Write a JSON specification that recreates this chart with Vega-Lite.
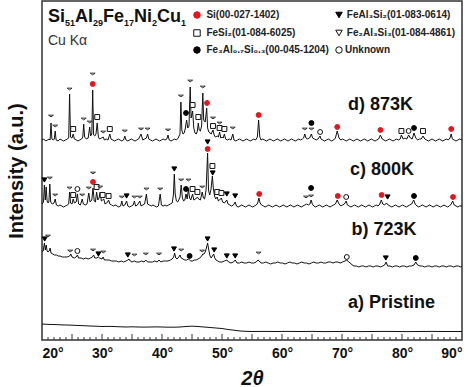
{
  "$schema": "https://vega.github.io/schema/vega-lite/v6.json",
  "width": 420,
  "height": 339,
  "autosize": {"type": "none"},
  "padding": {"left": 42, "top": 1, "right": 12, "bottom": 47},
  "background": "white",
  "config": {
    "view": {"stroke": "#333333", "strokeWidth": 1.5},
    "font": "Liberation Sans",
    "axisX": {"domain": false, "ticks": false, "grid": false, "labelPadding": 6, "labelFontSize": 14, "labelFontWeight": "bold", "labelColor": "#111111", "labelFont": "Liberation Sans", "titleFont": "Liberation Sans", "titleFontSize": 20, "titleFontWeight": "bold", "titleFontStyle": "italic", "titleColor": "#111111", "titlePadding": 8},
    "axisY": {"domain": false, "ticks": false, "grid": false, "labels": false, "titleFont": "Liberation Sans", "titleFontSize": 20, "titleFontWeight": "bold", "titleColor": "#111111", "titlePadding": 16}
  },
  "datasets": {
    "traces": [
      {"s":"d","t":20.0,"v":200},{"s":"d","t":20.3,"v":201},{"s":"d","t":20.6,"v":199},{"s":"d","t":20.9,"v":200},{"s":"d","t":21.2,"v":201},{"s":"d","t":21.35,"v":200},{"s":"d","t":21.5,"v":217},{"s":"d","t":21.65,"v":201},{"s":"d","t":21.9,"v":200},{"s":"d","t":22.05,"v":201},{"s":"d","t":22.2,"v":209},{"s":"d","t":22.35,"v":200},{"s":"d","t":22.7,"v":199},{"s":"d","t":23.0,"v":201},{"s":"d","t":23.3,"v":200},{"s":"d","t":23.6,"v":199},{"s":"d","t":23.9,"v":200},{"s":"d","t":24.2,"v":201},{"s":"d","t":24.45,"v":202},{"s":"d","t":24.6,"v":246},{"s":"d","t":24.75,"v":203},{"s":"d","t":25.0,"v":202},{"s":"d","t":25.2,"v":206},{"s":"d","t":25.4,"v":201},{"s":"d","t":25.7,"v":200},{"s":"d","t":26.0,"v":199},{"s":"d","t":26.3,"v":200},{"s":"d","t":26.6,"v":201},{"s":"d","t":26.8,"v":203},{"s":"d","t":26.95,"v":216},{"s":"d","t":27.1,"v":203},{"s":"d","t":27.4,"v":201},{"s":"d","t":27.7,"v":202},{"s":"d","t":27.95,"v":213},{"s":"d","t":28.1,"v":204},{"s":"d","t":28.3,"v":206},{"s":"d","t":28.45,"v":250},{"s":"d","t":28.6,"v":205},{"s":"d","t":28.8,"v":204},{"s":"d","t":29.0,"v":206},{"s":"d","t":29.2,"v":217},{"s":"d","t":29.4,"v":203},{"s":"d","t":29.6,"v":201},{"s":"d","t":29.9,"v":202},{"s":"d","t":30.2,"v":203},{"s":"d","t":30.4,"v":200},{"s":"d","t":30.7,"v":201},{"s":"d","t":31.0,"v":200},{"s":"d","t":31.3,"v":206},{"s":"d","t":31.5,"v":201},{"s":"d","t":31.8,"v":200},{"s":"d","t":32.1,"v":199},{"s":"d","t":32.4,"v":200},{"s":"d","t":32.7,"v":201},{"s":"d","t":33.0,"v":200},{"s":"d","t":33.3,"v":199},{"s":"d","t":33.6,"v":200},{"s":"d","t":33.8,"v":204},{"s":"d","t":34.0,"v":200},{"s":"d","t":34.3,"v":199},{"s":"d","t":34.6,"v":200},{"s":"d","t":34.9,"v":201},{"s":"d","t":35.2,"v":200},{"s":"d","t":35.5,"v":199},{"s":"d","t":35.8,"v":200},{"s":"d","t":36.1,"v":201},{"s":"d","t":36.5,"v":206},{"s":"d","t":36.8,"v":200},{"s":"d","t":37.1,"v":201},{"s":"d","t":37.4,"v":202},{"s":"d","t":37.6,"v":206},{"s":"d","t":37.8,"v":201},{"s":"d","t":38.1,"v":200},{"s":"d","t":38.4,"v":199},{"s":"d","t":38.7,"v":200},{"s":"d","t":39.0,"v":201},{"s":"d","t":39.3,"v":200},{"s":"d","t":39.6,"v":199},{"s":"d","t":39.9,"v":200},{"s":"d","t":40.2,"v":201},{"s":"d","t":40.5,"v":200},{"s":"d","t":40.8,"v":201},{"s":"d","t":41.0,"v":205},{"s":"d","t":41.2,"v":200},{"s":"d","t":41.5,"v":199},{"s":"d","t":41.8,"v":200},{"s":"d","t":42.1,"v":201},{"s":"d","t":42.4,"v":200},{"s":"d","t":42.7,"v":202},{"s":"d","t":43.0,"v":206},{"s":"d","t":43.15,"v":238},{"s":"d","t":43.3,"v":210},{"s":"d","t":43.5,"v":206},{"s":"d","t":43.7,"v":207},{"s":"d","t":43.9,"v":212},{"s":"d","t":44.1,"v":220},{"s":"d","t":44.3,"v":212},{"s":"d","t":44.5,"v":214},{"s":"d","t":44.7,"v":253},{"s":"d","t":44.85,"v":222},{"s":"d","t":45.1,"v":229},{"s":"d","t":45.3,"v":212},{"s":"d","t":45.5,"v":207},{"s":"d","t":45.7,"v":206},{"s":"d","t":45.9,"v":209},{"s":"d","t":46.05,"v":217},{"s":"d","t":46.2,"v":210},{"s":"d","t":46.4,"v":209},{"s":"d","t":46.6,"v":214},{"s":"d","t":46.8,"v":247},{"s":"d","t":46.95,"v":220},{"s":"d","t":47.2,"v":218},{"s":"d","t":47.45,"v":232},{"s":"d","t":47.6,"v":212},{"s":"d","t":47.8,"v":208},{"s":"d","t":48.0,"v":207},{"s":"d","t":48.2,"v":206},{"s":"d","t":48.5,"v":210},{"s":"d","t":48.7,"v":205},{"s":"d","t":48.9,"v":203},{"s":"d","t":49.2,"v":204},{"s":"d","t":49.4,"v":203},{"s":"d","t":49.6,"v":208},{"s":"d","t":49.8,"v":202},{"s":"d","t":50.0,"v":203},{"s":"d","t":50.2,"v":202},{"s":"d","t":50.4,"v":206},{"s":"d","t":50.6,"v":201},{"s":"d","t":50.9,"v":200},{"s":"d","t":51.2,"v":201},{"s":"d","t":51.5,"v":200},{"s":"d","t":51.8,"v":206},{"s":"d","t":52.0,"v":200},{"s":"d","t":52.3,"v":199},{"s":"d","t":52.6,"v":200},{"s":"d","t":52.9,"v":201},{"s":"d","t":53.2,"v":200},{"s":"d","t":53.5,"v":199},{"s":"d","t":53.8,"v":200},{"s":"d","t":54.1,"v":201},{"s":"d","t":54.4,"v":200},{"s":"d","t":54.7,"v":199},{"s":"d","t":55.0,"v":200},{"s":"d","t":55.3,"v":201},{"s":"d","t":55.6,"v":200},{"s":"d","t":55.9,"v":203},{"s":"d","t":56.1,"v":220},{"s":"d","t":56.3,"v":203},{"s":"d","t":56.5,"v":200},{"s":"d","t":56.8,"v":201},{"s":"d","t":57.1,"v":200},{"s":"d","t":57.4,"v":199},{"s":"d","t":57.7,"v":200},{"s":"d","t":58.0,"v":201},{"s":"d","t":58.3,"v":200},{"s":"d","t":58.6,"v":199},{"s":"d","t":58.9,"v":200},{"s":"d","t":59.2,"v":201},{"s":"d","t":59.5,"v":200},{"s":"d","t":59.8,"v":199},{"s":"d","t":60.1,"v":200},{"s":"d","t":60.4,"v":201},{"s":"d","t":60.7,"v":200},{"s":"d","t":61.0,"v":199},{"s":"d","t":61.3,"v":200},{"s":"d","t":61.6,"v":201},{"s":"d","t":61.9,"v":200},{"s":"d","t":62.2,"v":199},{"s":"d","t":62.5,"v":200},{"s":"d","t":62.8,"v":201},{"s":"d","t":63.1,"v":200},{"s":"d","t":63.4,"v":201},{"s":"d","t":63.6,"v":202},{"s":"d","t":63.8,"v":206},{"s":"d","t":64.0,"v":202},{"s":"d","t":64.3,"v":201},{"s":"d","t":64.6,"v":202},{"s":"d","t":64.9,"v":206},{"s":"d","t":65.1,"v":202},{"s":"d","t":65.4,"v":201},{"s":"d","t":65.7,"v":200},{"s":"d","t":66.0,"v":201},{"s":"d","t":66.35,"v":204},{"s":"d","t":66.5,"v":201},{"s":"d","t":66.8,"v":200},{"s":"d","t":67.1,"v":199},{"s":"d","t":67.4,"v":200},{"s":"d","t":67.7,"v":201},{"s":"d","t":68.0,"v":200},{"s":"d","t":68.3,"v":199},{"s":"d","t":68.6,"v":200},{"s":"d","t":68.9,"v":202},{"s":"d","t":69.2,"v":209},{"s":"d","t":69.5,"v":202},{"s":"d","t":69.8,"v":200},{"s":"d","t":70.1,"v":201},{"s":"d","t":70.4,"v":200},{"s":"d","t":70.7,"v":199},{"s":"d","t":71.0,"v":200},{"s":"d","t":71.3,"v":201},{"s":"d","t":71.6,"v":200},{"s":"d","t":71.9,"v":199},{"s":"d","t":72.2,"v":200},{"s":"d","t":72.5,"v":201},{"s":"d","t":72.8,"v":200},{"s":"d","t":73.1,"v":199},{"s":"d","t":73.4,"v":200},{"s":"d","t":73.7,"v":201},{"s":"d","t":74.0,"v":200},{"s":"d","t":74.3,"v":199},{"s":"d","t":74.6,"v":200},{"s":"d","t":74.9,"v":201},{"s":"d","t":75.2,"v":200},{"s":"d","t":75.5,"v":199},{"s":"d","t":75.8,"v":200},{"s":"d","t":76.1,"v":201},{"s":"d","t":76.4,"v":205},{"s":"d","t":76.7,"v":201},{"s":"d","t":77.0,"v":200},{"s":"d","t":77.3,"v":199},{"s":"d","t":77.6,"v":200},{"s":"d","t":77.9,"v":201},{"s":"d","t":78.2,"v":200},{"s":"d","t":78.5,"v":199},{"s":"d","t":78.8,"v":200},{"s":"d","t":79.1,"v":201},{"s":"d","t":79.4,"v":200},{"s":"d","t":79.7,"v":201},{"s":"d","t":79.9,"v":205},{"s":"d","t":80.2,"v":201},{"s":"d","t":80.5,"v":202},{"s":"d","t":80.8,"v":201},{"s":"d","t":81.1,"v":205},{"s":"d","t":81.4,"v":202},{"s":"d","t":81.7,"v":201},{"s":"d","t":82.0,"v":207},{"s":"d","t":82.3,"v":202},{"s":"d","t":82.6,"v":200},{"s":"d","t":82.9,"v":201},{"s":"d","t":83.2,"v":201},{"s":"d","t":83.5,"v":204},{"s":"d","t":83.8,"v":201},{"s":"d","t":84.1,"v":200},{"s":"d","t":84.4,"v":199},{"s":"d","t":84.7,"v":200},{"s":"d","t":85.0,"v":201},{"s":"d","t":85.3,"v":200},{"s":"d","t":85.6,"v":199},{"s":"d","t":85.9,"v":200},{"s":"d","t":86.2,"v":201},{"s":"d","t":86.5,"v":200},{"s":"d","t":86.8,"v":199},{"s":"d","t":87.1,"v":200},{"s":"d","t":87.4,"v":201},{"s":"d","t":87.7,"v":200},{"s":"d","t":88.0,"v":202},{"s":"d","t":88.2,"v":206},{"s":"d","t":88.4,"v":201},{"s":"d","t":88.7,"v":200},{"s":"d","t":89.0,"v":199},{"s":"d","t":89.3,"v":200},{"s":"d","t":89.6,"v":201},{"s":"d","t":90.0,"v":200},

      {"s":"c","t":20.0,"v":136},{"s":"c","t":20.25,"v":138},{"s":"c","t":20.4,"v":155},{"s":"c","t":20.55,"v":140},{"s":"c","t":20.7,"v":153},{"s":"c","t":20.85,"v":139},{"s":"c","t":21.0,"v":137},{"s":"c","t":21.15,"v":138},{"s":"c","t":21.3,"v":156},{"s":"c","t":21.45,"v":138},{"s":"c","t":21.7,"v":136},{"s":"c","t":22.0,"v":137},{"s":"c","t":22.2,"v":141},{"s":"c","t":22.4,"v":135},{"s":"c","t":22.7,"v":134},{"s":"c","t":23.0,"v":135},{"s":"c","t":23.3,"v":134},{"s":"c","t":23.6,"v":133},{"s":"c","t":23.9,"v":134},{"s":"c","t":24.2,"v":135},{"s":"c","t":24.45,"v":136},{"s":"c","t":24.6,"v":148},{"s":"c","t":24.75,"v":137},{"s":"c","t":25.0,"v":136},{"s":"c","t":25.2,"v":141},{"s":"c","t":25.4,"v":137},{"s":"c","t":25.7,"v":138},{"s":"c","t":25.9,"v":146},{"s":"c","t":26.1,"v":136},{"s":"c","t":26.4,"v":135},{"s":"c","t":26.7,"v":141},{"s":"c","t":26.9,"v":136},{"s":"c","t":27.2,"v":135},{"s":"c","t":27.5,"v":136},{"s":"c","t":27.8,"v":147},{"s":"c","t":28.0,"v":138},{"s":"c","t":28.3,"v":140},{"s":"c","t":28.5,"v":152},{"s":"c","t":28.7,"v":139},{"s":"c","t":28.9,"v":138},{"s":"c","t":29.1,"v":148},{"s":"c","t":29.3,"v":140},{"s":"c","t":29.5,"v":142},{"s":"c","t":29.7,"v":148},{"s":"c","t":29.9,"v":139},{"s":"c","t":30.1,"v":140},{"s":"c","t":30.3,"v":141},{"s":"c","t":30.5,"v":136},{"s":"c","t":30.8,"v":137},{"s":"c","t":31.1,"v":140},{"s":"c","t":31.3,"v":136},{"s":"c","t":31.6,"v":135},{"s":"c","t":31.9,"v":134},{"s":"c","t":32.2,"v":135},{"s":"c","t":32.5,"v":134},{"s":"c","t":32.8,"v":133},{"s":"c","t":33.1,"v":134},{"s":"c","t":33.3,"v":139},{"s":"c","t":33.5,"v":134},{"s":"c","t":33.8,"v":135},{"s":"c","t":34.1,"v":139},{"s":"c","t":34.3,"v":134},{"s":"c","t":34.6,"v":133},{"s":"c","t":34.9,"v":134},{"s":"c","t":35.2,"v":135},{"s":"c","t":35.4,"v":139},{"s":"c","t":35.6,"v":134},{"s":"c","t":35.9,"v":135},{"s":"c","t":36.3,"v":139},{"s":"c","t":36.5,"v":134},{"s":"c","t":36.8,"v":135},{"s":"c","t":37.1,"v":136},{"s":"c","t":37.4,"v":146},{"s":"c","t":37.6,"v":136},{"s":"c","t":37.9,"v":135},{"s":"c","t":38.2,"v":134},{"s":"c","t":38.5,"v":135},{"s":"c","t":38.8,"v":134},{"s":"c","t":39.1,"v":133},{"s":"c","t":39.4,"v":134},{"s":"c","t":39.7,"v":146},{"s":"c","t":39.9,"v":135},{"s":"c","t":40.2,"v":134},{"s":"c","t":40.5,"v":135},{"s":"c","t":40.8,"v":134},{"s":"c","t":41.1,"v":135},{"s":"c","t":41.4,"v":136},{"s":"c","t":41.7,"v":137},{"s":"c","t":41.9,"v":145},{"s":"c","t":42.05,"v":166},{"s":"c","t":42.2,"v":146},{"s":"c","t":42.4,"v":139},{"s":"c","t":42.6,"v":138},{"s":"c","t":42.8,"v":140},{"s":"c","t":43.0,"v":143},{"s":"c","t":43.2,"v":155},{"s":"c","t":43.4,"v":142},{"s":"c","t":43.6,"v":139},{"s":"c","t":43.8,"v":140},{"s":"c","t":44.0,"v":146},{"s":"c","t":44.2,"v":141},{"s":"c","t":44.4,"v":151},{"s":"c","t":44.6,"v":142},{"s":"c","t":44.8,"v":140},{"s":"c","t":45.1,"v":146},{"s":"c","t":45.3,"v":140},{"s":"c","t":45.6,"v":141},{"s":"c","t":45.9,"v":143},{"s":"c","t":46.1,"v":141},{"s":"c","t":46.4,"v":140},{"s":"c","t":46.7,"v":148},{"s":"c","t":46.9,"v":142},{"s":"c","t":47.1,"v":141},{"s":"c","t":47.35,"v":150},{"s":"c","t":47.6,"v":187},{"s":"c","t":47.75,"v":150},{"s":"c","t":47.95,"v":145},{"s":"c","t":48.15,"v":150},{"s":"c","t":48.4,"v":164},{"s":"c","t":48.55,"v":152},{"s":"c","t":48.75,"v":144},{"s":"c","t":48.95,"v":141},{"s":"c","t":49.2,"v":143},{"s":"c","t":49.4,"v":139},{"s":"c","t":49.6,"v":140},{"s":"c","t":49.9,"v":142},{"s":"c","t":50.1,"v":138},{"s":"c","t":50.4,"v":137},{"s":"c","t":50.8,"v":140},{"s":"c","t":51.0,"v":136},{"s":"c","t":51.3,"v":135},{"s":"c","t":51.6,"v":134},{"s":"c","t":51.9,"v":135},{"s":"c","t":52.2,"v":138},{"s":"c","t":52.4,"v":134},{"s":"c","t":52.7,"v":133},{"s":"c","t":53.0,"v":134},{"s":"c","t":53.3,"v":135},{"s":"c","t":53.6,"v":134},{"s":"c","t":53.9,"v":133},{"s":"c","t":54.2,"v":134},{"s":"c","t":54.5,"v":135},{"s":"c","t":54.8,"v":134},{"s":"c","t":55.1,"v":133},{"s":"c","t":55.4,"v":134},{"s":"c","t":55.7,"v":135},{"s":"c","t":55.95,"v":137},{"s":"c","t":56.15,"v":142},{"s":"c","t":56.35,"v":137},{"s":"c","t":56.6,"v":135},{"s":"c","t":56.9,"v":134},{"s":"c","t":57.2,"v":133},{"s":"c","t":57.5,"v":134},{"s":"c","t":57.8,"v":135},{"s":"c","t":58.1,"v":134},{"s":"c","t":58.4,"v":133},{"s":"c","t":58.7,"v":134},{"s":"c","t":59.0,"v":135},{"s":"c","t":59.3,"v":134},{"s":"c","t":59.6,"v":133},{"s":"c","t":59.9,"v":134},{"s":"c","t":60.2,"v":135},{"s":"c","t":60.5,"v":134},{"s":"c","t":60.8,"v":133},{"s":"c","t":61.1,"v":134},{"s":"c","t":61.4,"v":135},{"s":"c","t":61.7,"v":134},{"s":"c","t":62.0,"v":133},{"s":"c","t":62.3,"v":134},{"s":"c","t":62.6,"v":135},{"s":"c","t":62.9,"v":134},{"s":"c","t":63.2,"v":133},{"s":"c","t":63.5,"v":134},{"s":"c","t":63.8,"v":135},{"s":"c","t":64.1,"v":136},{"s":"c","t":64.4,"v":135},{"s":"c","t":64.65,"v":136},{"s":"c","t":64.85,"v":140},{"s":"c","t":65.05,"v":136},{"s":"c","t":65.3,"v":134},{"s":"c","t":65.6,"v":133},{"s":"c","t":65.9,"v":134},{"s":"c","t":66.2,"v":135},{"s":"c","t":66.5,"v":134},{"s":"c","t":66.8,"v":133},{"s":"c","t":67.1,"v":134},{"s":"c","t":67.4,"v":135},{"s":"c","t":67.7,"v":134},{"s":"c","t":68.0,"v":133},{"s":"c","t":68.3,"v":134},{"s":"c","t":68.6,"v":135},{"s":"c","t":68.9,"v":136},{"s":"c","t":69.2,"v":140},{"s":"c","t":69.5,"v":136},{"s":"c","t":69.8,"v":134},{"s":"c","t":70.1,"v":135},{"s":"c","t":70.4,"v":136},{"s":"c","t":70.7,"v":139},{"s":"c","t":70.9,"v":135},{"s":"c","t":71.2,"v":134},{"s":"c","t":71.5,"v":133},{"s":"c","t":71.8,"v":134},{"s":"c","t":72.1,"v":135},{"s":"c","t":72.4,"v":134},{"s":"c","t":72.7,"v":133},{"s":"c","t":73.0,"v":134},{"s":"c","t":73.3,"v":135},{"s":"c","t":73.6,"v":134},{"s":"c","t":73.9,"v":133},{"s":"c","t":74.2,"v":134},{"s":"c","t":74.5,"v":135},{"s":"c","t":74.8,"v":134},{"s":"c","t":75.1,"v":133},{"s":"c","t":75.4,"v":134},{"s":"c","t":75.7,"v":135},{"s":"c","t":76.0,"v":134},{"s":"c","t":76.3,"v":136},{"s":"c","t":76.55,"v":140},{"s":"c","t":76.8,"v":136},{"s":"c","t":77.1,"v":135},{"s":"c","t":77.4,"v":137},{"s":"c","t":77.7,"v":135},{"s":"c","t":78.0,"v":134},{"s":"c","t":78.3,"v":133},{"s":"c","t":78.6,"v":134},{"s":"c","t":78.9,"v":135},{"s":"c","t":79.2,"v":134},{"s":"c","t":79.5,"v":133},{"s":"c","t":79.8,"v":134},{"s":"c","t":80.1,"v":135},{"s":"c","t":80.4,"v":134},{"s":"c","t":80.7,"v":133},{"s":"c","t":81.0,"v":134},{"s":"c","t":81.3,"v":135},{"s":"c","t":81.6,"v":136},{"s":"c","t":81.95,"v":140},{"s":"c","t":82.2,"v":136},{"s":"c","t":82.5,"v":134},{"s":"c","t":82.8,"v":133},{"s":"c","t":83.1,"v":134},{"s":"c","t":83.4,"v":135},{"s":"c","t":83.7,"v":134},{"s":"c","t":84.0,"v":133},{"s":"c","t":84.3,"v":134},{"s":"c","t":84.6,"v":135},{"s":"c","t":84.9,"v":134},{"s":"c","t":85.2,"v":133},{"s":"c","t":85.5,"v":134},{"s":"c","t":85.8,"v":135},{"s":"c","t":86.1,"v":134},{"s":"c","t":86.4,"v":133},{"s":"c","t":86.7,"v":134},{"s":"c","t":87.0,"v":135},{"s":"c","t":87.3,"v":134},{"s":"c","t":87.6,"v":133},{"s":"c","t":87.9,"v":134},{"s":"c","t":88.2,"v":136},{"s":"c","t":88.45,"v":139},{"s":"c","t":88.7,"v":135},{"s":"c","t":89.0,"v":134},{"s":"c","t":89.3,"v":133},{"s":"c","t":89.6,"v":134},{"s":"c","t":90.0,"v":134},

      {"s":"b","t":20.0,"v":88},{"s":"b","t":20.2,"v":89},{"s":"b","t":20.4,"v":97},{"s":"b","t":20.55,"v":90},{"s":"b","t":20.7,"v":95},{"s":"b","t":20.85,"v":89},{"s":"b","t":21.0,"v":88},{"s":"b","t":21.2,"v":89},{"s":"b","t":21.35,"v":92},{"s":"b","t":21.5,"v":87},{"s":"b","t":21.8,"v":86},{"s":"b","t":22.1,"v":85},{"s":"b","t":22.4,"v":85},{"s":"b","t":22.7,"v":84},{"s":"b","t":23.0,"v":84},{"s":"b","t":23.4,"v":83},{"s":"b","t":23.8,"v":83},{"s":"b","t":24.2,"v":83},{"s":"b","t":24.6,"v":84},{"s":"b","t":24.8,"v":86},{"s":"b","t":25.0,"v":83},{"s":"b","t":25.4,"v":82},{"s":"b","t":25.7,"v":83},{"s":"b","t":25.9,"v":85},{"s":"b","t":26.1,"v":82},{"s":"b","t":26.5,"v":82},{"s":"b","t":26.9,"v":81},{"s":"b","t":27.3,"v":82},{"s":"b","t":27.7,"v":81},{"s":"b","t":28.1,"v":82},{"s":"b","t":28.4,"v":83},{"s":"b","t":28.6,"v":85},{"s":"b","t":28.8,"v":82},{"s":"b","t":29.1,"v":82},{"s":"b","t":29.4,"v":83},{"s":"b","t":29.6,"v":82},{"s":"b","t":30.0,"v":81},{"s":"b","t":30.2,"v":83},{"s":"b","t":30.4,"v":80},{"s":"b","t":30.8,"v":80},{"s":"b","t":31.2,"v":80},{"s":"b","t":31.6,"v":79},{"s":"b","t":32.0,"v":79},{"s":"b","t":32.4,"v":79},{"s":"b","t":32.8,"v":78},{"s":"b","t":33.2,"v":79},{"s":"b","t":33.6,"v":78},{"s":"b","t":34.0,"v":79},{"s":"b","t":34.3,"v":80},{"s":"b","t":34.5,"v":81},{"s":"b","t":34.7,"v":79},{"s":"b","t":35.0,"v":78},{"s":"b","t":35.4,"v":79},{"s":"b","t":35.8,"v":78},{"s":"b","t":36.2,"v":78},{"s":"b","t":36.6,"v":79},{"s":"b","t":37.0,"v":78},{"s":"b","t":37.3,"v":80},{"s":"b","t":37.6,"v":78},{"s":"b","t":38.0,"v":78},{"s":"b","t":38.4,"v":78},{"s":"b","t":38.8,"v":79},{"s":"b","t":39.2,"v":78},{"s":"b","t":39.5,"v":80},{"s":"b","t":39.8,"v":78},{"s":"b","t":40.2,"v":79},{"s":"b","t":40.6,"v":79},{"s":"b","t":41.0,"v":79},{"s":"b","t":41.4,"v":80},{"s":"b","t":41.7,"v":81},{"s":"b","t":41.95,"v":83},{"s":"b","t":42.1,"v":87},{"s":"b","t":42.3,"v":82},{"s":"b","t":42.5,"v":81},{"s":"b","t":42.8,"v":83},{"s":"b","t":43.0,"v":85},{"s":"b","t":43.2,"v":82},{"s":"b","t":43.5,"v":81},{"s":"b","t":43.8,"v":80},{"s":"b","t":44.1,"v":80},{"s":"b","t":44.4,"v":81},{"s":"b","t":44.6,"v":80},{"s":"b","t":44.8,"v":79},{"s":"b","t":45.1,"v":79},{"s":"b","t":45.4,"v":80},{"s":"b","t":45.7,"v":80},{"s":"b","t":46.0,"v":81},{"s":"b","t":46.3,"v":82},{"s":"b","t":46.6,"v":84},{"s":"b","t":46.8,"v":86},{"s":"b","t":47.0,"v":86},{"s":"b","t":47.2,"v":88},{"s":"b","t":47.4,"v":92},{"s":"b","t":47.6,"v":97},{"s":"b","t":47.8,"v":90},{"s":"b","t":48.0,"v":84},{"s":"b","t":48.2,"v":82},{"s":"b","t":48.4,"v":84},{"s":"b","t":48.6,"v":86},{"s":"b","t":48.8,"v":82},{"s":"b","t":49.0,"v":80},{"s":"b","t":49.3,"v":79},{"s":"b","t":49.6,"v":78},{"s":"b","t":50.0,"v":78},{"s":"b","t":50.4,"v":79},{"s":"b","t":50.8,"v":80},{"s":"b","t":51.1,"v":78},{"s":"b","t":51.5,"v":77},{"s":"b","t":51.9,"v":78},{"s":"b","t":52.2,"v":80},{"s":"b","t":52.5,"v":77},{"s":"b","t":52.9,"v":77},{"s":"b","t":53.3,"v":78},{"s":"b","t":53.7,"v":77},{"s":"b","t":54.1,"v":77},{"s":"b","t":54.5,"v":78},{"s":"b","t":54.9,"v":77},{"s":"b","t":55.3,"v":77},{"s":"b","t":55.7,"v":78},{"s":"b","t":56.0,"v":80},{"s":"b","t":56.2,"v":79},{"s":"b","t":56.5,"v":77},{"s":"b","t":56.9,"v":77},{"s":"b","t":57.3,"v":78},{"s":"b","t":57.7,"v":77},{"s":"b","t":58.1,"v":76},{"s":"b","t":58.5,"v":77},{"s":"b","t":58.9,"v":77},{"s":"b","t":59.3,"v":78},{"s":"b","t":59.7,"v":77},{"s":"b","t":60.1,"v":77},{"s":"b","t":60.5,"v":76},{"s":"b","t":60.9,"v":77},{"s":"b","t":61.3,"v":78},{"s":"b","t":61.7,"v":77},{"s":"b","t":62.1,"v":77},{"s":"b","t":62.5,"v":76},{"s":"b","t":62.9,"v":77},{"s":"b","t":63.3,"v":78},{"s":"b","t":63.7,"v":77},{"s":"b","t":64.1,"v":77},{"s":"b","t":64.5,"v":76},{"s":"b","t":64.9,"v":77},{"s":"b","t":65.3,"v":78},{"s":"b","t":65.7,"v":77},{"s":"b","t":66.1,"v":77},{"s":"b","t":66.5,"v":78},{"s":"b","t":66.9,"v":77},{"s":"b","t":67.3,"v":77},{"s":"b","t":67.7,"v":78},{"s":"b","t":68.1,"v":78},{"s":"b","t":68.5,"v":77},{"s":"b","t":68.9,"v":78},{"s":"b","t":69.3,"v":78},{"s":"b","t":69.7,"v":77},{"s":"b","t":70.1,"v":78},{"s":"b","t":70.5,"v":79},{"s":"b","t":70.8,"v":80},{"s":"b","t":71.1,"v":78},{"s":"b","t":71.4,"v":77},{"s":"b","t":71.7,"v":75},{"s":"b","t":72.0,"v":74},{"s":"b","t":72.4,"v":74},{"s":"b","t":72.8,"v":73},{"s":"b","t":73.2,"v":74},{"s":"b","t":73.6,"v":74},{"s":"b","t":74.0,"v":73},{"s":"b","t":74.4,"v":74},{"s":"b","t":74.8,"v":74},{"s":"b","t":75.2,"v":73},{"s":"b","t":75.6,"v":74},{"s":"b","t":76.0,"v":74},{"s":"b","t":76.4,"v":73},{"s":"b","t":76.8,"v":74},{"s":"b","t":77.1,"v":75},{"s":"b","t":77.35,"v":78},{"s":"b","t":77.6,"v":74},{"s":"b","t":78.0,"v":74},{"s":"b","t":78.4,"v":73},{"s":"b","t":78.8,"v":74},{"s":"b","t":79.2,"v":74},{"s":"b","t":79.6,"v":73},{"s":"b","t":80.0,"v":74},{"s":"b","t":80.4,"v":74},{"s":"b","t":80.8,"v":73},{"s":"b","t":81.2,"v":74},{"s":"b","t":81.6,"v":74},{"s":"b","t":82.0,"v":75},{"s":"b","t":82.3,"v":78},{"s":"b","t":82.6,"v":75},{"s":"b","t":83.0,"v":74},{"s":"b","t":83.4,"v":74},{"s":"b","t":83.8,"v":73},{"s":"b","t":84.2,"v":74},{"s":"b","t":84.6,"v":74},{"s":"b","t":85.0,"v":73},{"s":"b","t":85.4,"v":74},{"s":"b","t":85.8,"v":74},{"s":"b","t":86.2,"v":73},{"s":"b","t":86.6,"v":74},{"s":"b","t":87.0,"v":74},{"s":"b","t":87.4,"v":73},{"s":"b","t":87.8,"v":74},{"s":"b","t":88.2,"v":74},{"s":"b","t":88.6,"v":73},{"s":"b","t":89.0,"v":74},{"s":"b","t":89.4,"v":74},{"s":"b","t":89.8,"v":73},{"s":"b","t":90.0,"v":74},

      {"s":"a","t":20,"v":16},{"s":"a","t":21,"v":15.6},{"s":"a","t":22,"v":15.5},{"s":"a","t":23,"v":15.2},{"s":"a","t":24,"v":15},{"s":"a","t":25,"v":14.8},{"s":"a","t":26,"v":14.5},{"s":"a","t":27,"v":14.3},{"s":"a","t":28,"v":14},{"s":"a","t":29,"v":13.8},{"s":"a","t":30,"v":13.5},{"s":"a","t":31,"v":13.6},{"s":"a","t":32,"v":13.5},{"s":"a","t":33,"v":13.2},{"s":"a","t":34,"v":13},{"s":"a","t":35,"v":13.2},{"s":"a","t":36,"v":13},{"s":"a","t":37,"v":12.9},{"s":"a","t":38,"v":13},{"s":"a","t":39,"v":13.1},{"s":"a","t":40,"v":13},{"s":"a","t":41,"v":12.8},{"s":"a","t":42,"v":12.8},{"s":"a","t":43,"v":13},{"s":"a","t":44,"v":13.5},{"s":"a","t":45,"v":13.8},{"s":"a","t":46,"v":13.5},{"s":"a","t":47,"v":13},{"s":"a","t":48,"v":12.5},{"s":"a","t":49,"v":12},{"s":"a","t":50,"v":11.5},{"s":"a","t":51,"v":10.5},{"s":"a","t":52,"v":9.8},{"s":"a","t":53,"v":9},{"s":"a","t":54,"v":8.7},{"s":"a","t":55,"v":8.5},{"s":"a","t":57,"v":8.6},{"s":"a","t":59,"v":8.5},{"s":"a","t":61,"v":8.6},{"s":"a","t":63,"v":8.5},{"s":"a","t":65,"v":8.6},{"s":"a","t":67,"v":8.4},{"s":"a","t":69,"v":8.5},{"s":"a","t":71,"v":8.6},{"s":"a","t":73,"v":8.4},{"s":"a","t":75,"v":8.5},{"s":"a","t":77,"v":8.6},{"s":"a","t":79,"v":8.5},{"s":"a","t":81,"v":8.4},{"s":"a","t":83,"v":8.5},{"s":"a","t":85,"v":8.6},{"s":"a","t":87,"v":8.5},{"s":"a","t":89,"v":8.5},{"s":"a","t":90,"v":8.5}
    ],
    "markers": [
      {"t":21.5,"v":224,"m":"fe2"},{"t":22.2,"v":214,"m":"fe2"},{"t":24.6,"v":251,"m":"fe2"},{"t":25.2,"v":211,"m":"fesi2"},{"t":26.95,"v":221,"m":"fe2"},{"t":27.95,"v":218,"m":"fe2"},{"t":28.45,"v":256,"m":"si"},{"t":28.45,"v":266,"m":"fe2"},{"t":29.2,"v":223,"m":"fesi2"},{"t":30.2,"v":208,"m":"fe2"},{"t":31.3,"v":211,"m":"fesi2"},{"t":33.8,"v":209,"m":"fe2"},{"t":36.5,"v":211,"m":"fe2"},{"t":37.6,"v":211,"m":"fe2"},{"t":41.0,"v":210,"m":"fe2"},{"t":43.15,"v":244,"m":"fe2"},{"t":44.0,"v":227,"m":"fe3"},{"t":44.7,"v":259,"m":"fe2"},{"t":45.1,"v":235,"m":"fesi2"},{"t":46.05,"v":223,"m":"fesi2"},{"t":46.8,"v":253,"m":"fe2"},{"t":47.5,"v":237,"m":"si"},{"t":48.5,"v":222,"m":"fe2"},{"t":48.5,"v":214,"m":"fesi2"},{"t":49.6,"v":217,"m":"fe2"},{"t":49.6,"v":212,"m":"fesi2"},{"t":50.4,"v":211,"m":"fesi2"},{"t":51.8,"v":212,"m":"fe2"},{"t":56.1,"v":225,"m":"si"},{"t":63.8,"v":211,"m":"fe2"},{"t":64.9,"v":217,"m":"fe3"},{"t":64.9,"v":211,"m":"fe2"},{"t":66.35,"v":208,"m":"unk"},{"t":69.2,"v":213,"m":"si"},{"t":76.4,"v":210,"m":"si"},{"t":79.9,"v":209,"m":"fesi2"},{"t":81.1,"v":209,"m":"unk"},{"t":82.0,"v":212,"m":"fe3"},{"t":83.5,"v":209,"m":"fesi2"},{"t":88.2,"v":211,"m":"si"},
      {"t":20.4,"v":160,"m":"feal"},{"t":21.3,"v":162,"m":"fe2"},{"t":22.2,"v":145,"m":"fe2"},{"t":24.6,"v":152,"m":"fe2"},{"t":25.2,"v":145,"m":"fesi2"},{"t":25.9,"v":151,"m":"unk"},{"t":26.7,"v":145,"m":"fe2"},{"t":27.8,"v":152,"m":"fe2"},{"t":28.5,"v":158,"m":"si"},{"t":28.5,"v":167,"m":"fe2"},{"t":29.1,"v":153,"m":"fesi2"},{"t":29.7,"v":153,"m":"fe2"},{"t":30.1,"v":145,"m":"fesi2"},{"t":31.1,"v":144,"m":"fesi2"},{"t":33.3,"v":143,"m":"fe2"},{"t":34.1,"v":144,"m":"feal"},{"t":35.4,"v":143,"m":"fe2"},{"t":36.3,"v":143,"m":"fe2"},{"t":37.4,"v":151,"m":"fe2"},{"t":39.7,"v":151,"m":"fe2"},{"t":42.05,"v":171,"m":"feal"},{"t":43.2,"v":160,"m":"fe2"},{"t":44.4,"v":160,"m":"fe2"},{"t":44.0,"v":151,"m":"fe3"},{"t":45.1,"v":151,"m":"fesi2"},{"t":45.9,"v":148,"m":"fesi2"},{"t":46.7,"v":153,"m":"fe2"},{"t":47.6,"v":191,"m":"si"},{"t":47.6,"v":198,"m":"feal"},{"t":48.4,"v":174,"m":"fesi2"},{"t":48.45,"v":167,"m":"feal"},{"t":49.2,"v":148,"m":"fesi2"},{"t":49.9,"v":147,"m":"fesi2"},{"t":50.8,"v":146,"m":"feal"},{"t":52.2,"v":144,"m":"feal"},{"t":56.2,"v":146,"m":"si"},{"t":64.0,"v":143,"m":"fe2"},{"t":64.85,"v":144,"m":"fe2"},{"t":64.85,"v":152,"m":"fe3"},{"t":69.3,"v":144,"m":"si"},{"t":70.7,"v":143,"m":"unk"},{"t":76.6,"v":145,"m":"si"},{"t":77.6,"v":143,"m":"feal"},{"t":82.0,"v":144,"m":"fe3"},{"t":88.5,"v":143,"m":"si"},
      {"t":20.45,"v":101,"m":"feal"},{"t":21.0,"v":104,"m":"fe2"},{"t":24.7,"v":89,"m":"fe2"},{"t":25.9,"v":89,"m":"unk"},{"t":28.5,"v":90,"m":"fe2"},{"t":29.4,"v":86,"m":"feal"},{"t":30.2,"v":88,"m":"fe2"},{"t":34.3,"v":85,"m":"feal"},{"t":35.4,"v":85,"m":"fe2"},{"t":37.3,"v":86,"m":"fe2"},{"t":39.5,"v":86,"m":"fe2"},{"t":42.0,"v":91,"m":"feal"},{"t":43.2,"v":90,"m":"fe2"},{"t":44.6,"v":84,"m":"fe3"},{"t":46.7,"v":89,"m":"fe2"},{"t":47.6,"v":101,"m":"feal"},{"t":48.7,"v":90,"m":"feal"},{"t":50.8,"v":84,"m":"feal"},{"t":52.2,"v":84,"m":"feal"},{"t":56.1,"v":87,"m":"fe2"},{"t":70.8,"v":83,"m":"unk"},{"t":77.3,"v":82,"m":"feal"},{"t":82.3,"v":82,"m":"fe3"}
    ],
    "legendMarks": [
      {"t":45.83,"v":325,"m":"si"},{"t":45.83,"v":307,"m":"fesi2"},{"t":45.83,"v":290,"m":"fe3"},
      {"t":69.5,"v":325,"m":"feal"},{"t":69.5,"v":307,"m":"fe2L"},{"t":69.5,"v":290,"m":"unk"}
    ],
    "legendText": [
      {"t":47.4,"v":325,"label":"Si(00-027-1402)"},
      {"t":47.4,"v":307,"label":"FeSi₂(01-084-6025)"},
      {"t":47.4,"v":290,"label":"Fe₃Al₀.₇Si₀.₃(00-045-1204)"},
      {"t":70.8,"v":325,"label":"FeAl₃Si₂(01-083-0614)"},
      {"t":70.8,"v":307,"label":"Fe₂Al₃Si₃(01-084-4861)"},
      {"t":70.5,"v":290,"label":"Unknown"}
    ],
    "sampleLabels": [
      {"t":71.0,"v":230,"label":"d) 873K"},
      {"t":71.33,"v":165,"label":"c) 800K"},
      {"t":71.6,"v":105,"label":"b) 723K"},
      {"t":71.0,"v":32,"label":"a) Pristine"}
    ],
    "formulaMain": [
      {"t":21.0,"v":318,"label":"Si"},{"t":25.5,"v":318,"label":"Al"},{"t":30.17,"v":318,"label":"Fe"},{"t":35.33,"v":318,"label":"Ni"},{"t":39.17,"v":318,"label":"Cu"}
    ],
    "formulaSub": [
      {"t":23.83,"v":314,"label":"51"},{"t":28.5,"v":314,"label":"29"},{"t":33.67,"v":314,"label":"17"},{"t":38.33,"v":314,"label":"2"},{"t":43.17,"v":314,"label":"1"}
    ],
    "majorTicks": [{"t":25},{"t":30},{"t":35},{"t":40},{"t":45},{"t":50},{"t":55},{"t":60},{"t":65},{"t":70},{"t":75},{"t":80},{"t":85}],
    "minorTicks": [{"t":21},{"t":22},{"t":23},{"t":24},{"t":26},{"t":27},{"t":28},{"t":29},{"t":31},{"t":32},{"t":33},{"t":34},{"t":36},{"t":37},{"t":38},{"t":39},{"t":41},{"t":42},{"t":43},{"t":44},{"t":46},{"t":47},{"t":48},{"t":49},{"t":51},{"t":52},{"t":53},{"t":54},{"t":56},{"t":57},{"t":58},{"t":59},{"t":61},{"t":62},{"t":63},{"t":64},{"t":66},{"t":67},{"t":68},{"t":69},{"t":71},{"t":72},{"t":73},{"t":74},{"t":76},{"t":77},{"t":78},{"t":79},{"t":81},{"t":82},{"t":83},{"t":84},{"t":86},{"t":87},{"t":88},{"t":89}]
  },
  "layer": [
    {
      "data": {"name": "traces"},
      "mark": {"type": "line", "color": "#111111", "strokeWidth": 1},
      "encoding": {
        "x": {"field": "t", "type": "quantitative", "scale": {"domain": [20, 90], "nice": false, "zero": false}, "axis": {"values": [20,25,30,35,40,45,50,55,60,65,70,75,80,85,90], "labelExpr": "datum.value + '°'", "title": "2θ"}},
        "y": {"field": "v", "type": "quantitative", "scale": {"domain": [0, 339], "nice": false, "zero": false}, "axis": {"title": "Intensity (a.u.)"}},
        "detail": {"field": "s"}
      }
    },
    {
      "data": {"name": "minorTicks"},
      "mark": {"type": "rule", "color": "#333333", "strokeWidth": 1},
      "encoding": {
        "x": {"field": "t", "type": "quantitative", "title": "2θ"},
        "y": {"datum": 0, "type": "quantitative", "title": "Intensity (a.u.)"},
        "y2": {"datum": 3}
      }
    },
    {
      "data": {"name": "majorTicks"},
      "mark": {"type": "rule", "color": "#333333", "strokeWidth": 1},
      "encoding": {
        "x": {"field": "t", "type": "quantitative", "title": "2θ"},
        "y": {"datum": 0, "type": "quantitative", "title": "Intensity (a.u.)"},
        "y2": {"datum": 6}
      }
    },
    {
      "data": {"name": "markers"},
      "mark": {"type": "point", "size": 24, "strokeWidth": 1, "opacity": 1, "filled": false},
      "encoding": {
        "x": {"field": "t", "type": "quantitative", "title": "2θ"},
        "y": {"field": "v", "type": "quantitative", "title": "Intensity (a.u.)"},
        "shape": {"field": "m", "type": "nominal", "legend": null, "scale": {"domain": ["si","fesi2","fe3","feal","fe2","unk","fe2L"], "range": ["circle","square","circle","triangle-down","M-1,-0.35L1,-0.35L0,0.35Z","circle","triangle-down"]}},
        "fill": {"field": "m", "type": "nominal", "legend": null, "scale": {"domain": ["si","fesi2","fe3","feal","fe2","unk","fe2L"], "range": ["#e8141c","#ffffff","#000000","#000000","#ffffff","#ffffff","#ffffff"]}},
        "stroke": {"field": "m", "type": "nominal", "legend": null, "scale": {"domain": ["si","fesi2","fe3","feal","fe2","unk","fe2L"], "range": ["#e8141c","#111111","#000000","#000000","#333333","#111111","#111111"]}}
      }
    },
    {
      "data": {"name": "legendMarks"},
      "mark": {"type": "point", "size": 42, "strokeWidth": 1, "opacity": 1, "filled": false},
      "encoding": {
        "x": {"field": "t", "type": "quantitative", "title": "2θ"},
        "y": {"field": "v", "type": "quantitative", "title": "Intensity (a.u.)"},
        "shape": {"field": "m", "type": "nominal", "legend": null},
        "fill": {"field": "m", "type": "nominal", "legend": null},
        "stroke": {"field": "m", "type": "nominal", "legend": null}
      }
    },
    {
      "data": {"name": "legendText"},
      "mark": {"type": "text", "align": "left", "baseline": "middle", "fontSize": 10, "fontWeight": "bold", "font": "Liberation Sans", "color": "#222222"},
      "encoding": {
        "x": {"field": "t", "type": "quantitative", "title": "2θ"},
        "y": {"field": "v", "type": "quantitative", "title": "Intensity (a.u.)"},
        "text": {"field": "label"}
      }
    },
    {
      "data": {"name": "sampleLabels"},
      "mark": {"type": "text", "align": "left", "baseline": "alphabetic", "fontSize": 18, "fontWeight": "bold", "font": "Liberation Sans", "color": "#111111"},
      "encoding": {
        "x": {"field": "t", "type": "quantitative", "title": "2θ"},
        "y": {"field": "v", "type": "quantitative", "title": "Intensity (a.u.)"},
        "text": {"field": "label"}
      }
    },
    {
      "data": {"name": "formulaMain"},
      "mark": {"type": "text", "align": "left", "baseline": "alphabetic", "fontSize": 18, "fontWeight": "bold", "font": "Liberation Sans", "color": "#111111"},
      "encoding": {
        "x": {"field": "t", "type": "quantitative", "title": "2θ"},
        "y": {"field": "v", "type": "quantitative", "title": "Intensity (a.u.)"},
        "text": {"field": "label"}
      }
    },
    {
      "data": {"name": "formulaSub"},
      "mark": {"type": "text", "align": "left", "baseline": "alphabetic", "fontSize": 9, "fontWeight": "bold", "font": "Liberation Sans", "color": "#111111"},
      "encoding": {
        "x": {"field": "t", "type": "quantitative", "title": "2θ"},
        "y": {"field": "v", "type": "quantitative", "title": "Intensity (a.u.)"},
        "text": {"field": "label"}
      }
    },
    {
      "data": {"values": [{"t": 21.0, "v": 295, "label": "Cu Kα"}]},
      "mark": {"type": "text", "align": "left", "baseline": "alphabetic", "fontSize": 14, "font": "Liberation Sans", "color": "#333333"},
      "encoding": {
        "x": {"field": "t", "type": "quantitative", "title": "2θ"},
        "y": {"field": "v", "type": "quantitative", "title": "Intensity (a.u.)"},
        "text": {"field": "label"}
      }
    }
  ]
}
